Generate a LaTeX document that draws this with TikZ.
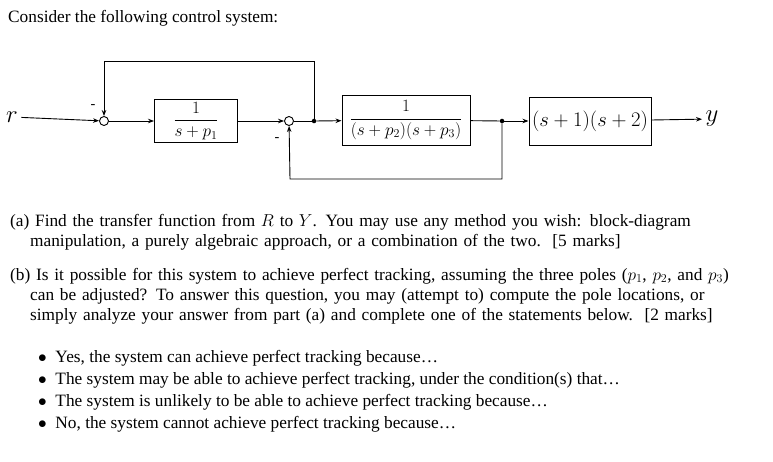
\documentclass[tikz,border=0pt]{standalone}
\usepackage{amsmath}
\usepackage{fontspec}
\setmainfont{Liberation Serif}
\usetikzlibrary{arrows.meta}
\begin{document}
\begin{tikzpicture}[x=1pt,y=-1pt,
  blk/.style={draw,line width=1pt,minimum height=42pt,inner sep=2pt,font=\fontsize{17}{20}\selectfont},
  sumc/.style={draw,circle,line width=0.9pt,minimum size=9pt,inner sep=0pt},
  sig/.style={line width=0.9pt,-{Stealth[length=6pt]}},
  ln/.style={line width=0.9pt},
  dotj/.style={circle,fill,inner sep=1.6pt},
  lbl/.style={font=\fontsize{26}{28}\selectfont},
  txt/.style={anchor=north west,inner sep=0pt,align=left,font=\fontsize{17.3}{20}\selectfont}]
\useasboundingbox (0,0) rectangle (773,461);
\node[txt] (t0) at (8,10) {Consider the following control system:};
% diagram
\node[lbl] (r) at (12,117) {$r$};
\node[sumc] (s1) at (104,121) {};
\node[blk,minimum width=83pt] (b1) at (196,121) {$\dfrac{1}{s+p_1}$};
\node[sumc] (s2) at (289,121) {};
\node[dotj] (j1) at (314,121) {};
\node[blk,minimum width=128pt,minimum height=50pt] (b2) at (406,120) {$\dfrac{1}{(s+p_2)(s+p_3)}$};
\node[dotj] (j2) at (502,121) {};
\node[blk,minimum width=122pt,minimum height=48pt,font=\fontsize{20}{22}\selectfont] (b3) at (590,121) {$(s+1)(s+2)$};
\node[lbl] (y) at (712,119) {$y$};
\draw[sig] (r) -- (s1);
\draw[sig] (s1) -- (b1);
\draw[sig] (b1) -- (s2);
\draw[ln] (s2) -- (j1);
\draw[sig] (j1) -- (b2);
\draw[ln] (b2) -- (j2);
\draw[sig] (j2) -- (b3);
\draw[sig] (b3) -- (y);
\draw[sig] (j1) |- (104,61) -- (s1);
\draw[sig] (j2) |- (290,179) -- (s2);
\node[font=\Large] (m1) at (93,107) {-};
\node[font=\Large] (m2) at (277,140) {-};
% questions
\node[txt,text width=760pt] (qa) at (10,214) {(a)\ Find the transfer function from $R$ to $Y$. You may use any method you wish: block-diagram\\\hspace*{20pt}manipulation, a purely algebraic approach, or a combination of the two.\ \ [5 marks]};
\node[txt,text width=770pt] (qb) at (10,268) {(b)\ Is it possible for this system to achieve perfect tracking, assuming the three poles ($p_1$, $p_2$, and $p_3$)\\\hspace*{20pt}can be adjusted? To answer this question, you may (attempt to) compute the pole locations, or\\\hspace*{20pt}simply analyze your answer from part (a) and complete one of the statements below.\ \ [2 marks]};
\node[txt] (l1) at (38,350) {$\bullet$\ \ Yes, the system can achieve perfect tracking because\dots};
\node[txt] (l2) at (38,372) {$\bullet$\ \ The system may be able to achieve perfect tracking, under the condition(s) that\dots};
\node[txt] (l3) at (38,394) {$\bullet$\ \ The system is unlikely to be able to achieve perfect tracking because\dots};
\node[txt] (l4) at (38,416) {$\bullet$\ \ No, the system cannot achieve perfect tracking because\dots};
\end{tikzpicture}
\end{document}
